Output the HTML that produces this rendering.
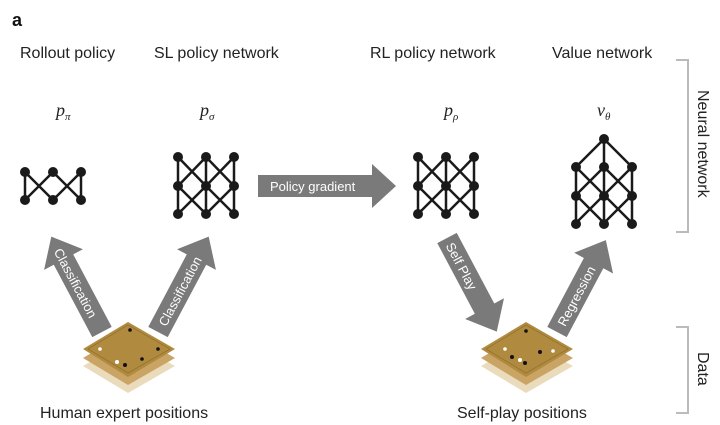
<!DOCTYPE html>
<html><head><meta charset="utf-8"><style>
body{margin:0;background:#fff;}
svg{display:block;font-family:"Liberation Sans",sans-serif;}
</style></head><body>
<svg width="720" height="425" viewBox="0 0 720 425" xmlns="http://www.w3.org/2000/svg">
<text x="12" y="26" font-size="18" font-weight="bold" fill="#111">a</text>
<g font-size="16" fill="#222">
<text x="20" y="58">Rollout policy</text>
<text x="154" y="58">SL policy network</text>
<text x="370" y="58">RL policy network</text>
<text x="552" y="58">Value network</text>
<text x="40" y="418">Human expert positions</text>
<text x="457" y="418">Self-play positions</text>
</g>
<g font-family="Liberation Serif,serif" font-style="italic" fill="#222">
<text x="56" y="116" font-size="18">p<tspan font-size="11" dy="4">π</tspan></text>
<text x="200" y="116" font-size="18">p<tspan font-size="11" dy="4">σ</tspan></text>
<text x="444" y="116" font-size="18">p<tspan font-size="11" dy="4">ρ</tspan></text>
<text x="597" y="116" font-size="18">v<tspan font-size="11" dy="4">θ</tspan></text>
</g>
<g stroke="#1a1a1a" stroke-width="2.5" fill="none">
<path d="M25 172V200M81 172V200M25 172L53 200M53 172L25 200M53 172L81 200M81 172L53 200"/>
<path d="M178 157V214M206 157V214M234 157V214M178 157L206 186M206 157L178 186M206 157L234 186M234 157L206 186M178 186L206 214M206 186L178 214M206 186L234 214M234 186L206 214"/>
<path d="M418 157V214M446 157V214M474 157V214M418 157L446 186M446 157L418 186M446 157L474 186M474 157L446 186M418 186L446 214M446 186L418 214M446 186L474 214M474 186L446 214"/>
<path d="M604 139L576 167M604 139V167M604 139L632 167M576 167V223M604 167V223M632 167V223M576 167L604 195M604 167L576 195M604 167L632 195M632 167L604 195M576 195L604 223M604 195L576 223M604 195L632 223M632 195L604 223"/>
</g>
<g fill="#1a1a1a">
<circle cx="25" cy="172" r="5"/><circle cx="53" cy="172" r="5"/><circle cx="81" cy="172" r="5"/>
<circle cx="25" cy="200" r="5"/><circle cx="53" cy="200" r="5"/><circle cx="81" cy="200" r="5"/>
<g id="g3">
<circle cx="178" cy="157" r="5"/><circle cx="206" cy="157" r="5"/><circle cx="234" cy="157" r="5"/>
<circle cx="178" cy="186" r="5"/><circle cx="206" cy="186" r="5"/><circle cx="234" cy="186" r="5"/>
<circle cx="178" cy="214" r="5"/><circle cx="206" cy="214" r="5"/><circle cx="234" cy="214" r="5"/>
</g>
<use href="#g3" transform="translate(240,0)"/>
<use href="#g3" transform="translate(398,10)"/>
<circle cx="604" cy="139" r="5"/>
</g>
<polygon points="258,175 372,175 372,164 396,186 372,208 372,197 258,197" fill="#7a7a7a"/>
<text x="270" y="191" font-size="13" fill="#fff">Policy gradient</text>
<g fill="#7a7a7a">
<g transform="translate(102,332) rotate(-28)"><polygon points="-11,0 -11,-82 -22,-82 0,-108 22,-82 11,-82 11,0"/><text transform="rotate(90)" x="-94" y="5" font-size="13" fill="#fff">Classification</text></g>
<g transform="translate(158,332) rotate(28)"><polygon points="-11,0 -11,-82 -22,-82 0,-108 22,-82 11,-82 11,0"/><text transform="rotate(-90)" x="8" y="5" font-size="13" fill="#fff">Classification</text></g>
<g transform="translate(447,238) rotate(-28)"><polygon points="-11,0 -11,80 -22,80 0,106 22,80 11,80 11,0"/><text transform="rotate(90)" x="6" y="5" font-size="13" fill="#fff">Self Play</text></g>
<g transform="translate(557,332) rotate(28)"><polygon points="-11,0 -11,-78 -22,-78 0,-104 22,-78 11,-78 11,0"/><text transform="rotate(-90)" x="8" y="5" font-size="13" fill="#fff">Regression</text></g>
</g>
<g id="board">
<polygon points="128,340 175,366 128,393 83,366" fill="#eadbbd"/>
<polygon points="128,331 175,358 128,385 83,358" fill="#c9a465"/>
<polygon points="128,322 175,349 128,377 83,349" fill="#b08a3e"/>
<polygon points="128,325 170,349 128,373 88,349" fill="none" stroke="#8a6a2a" stroke-width="0.6"/>
</g>
<use href="#board" transform="translate(398,0)"/>
<g fill="#111"><circle cx="130" cy="330" r="1.8"/><circle cx="158" cy="349" r="1.8"/><circle cx="142" cy="359" r="1.8"/><circle cx="125" cy="365" r="2"/>
<circle cx="526" cy="331" r="1.8"/><circle cx="540" cy="352" r="2"/><circle cx="512" cy="357" r="2"/><circle cx="525" cy="363" r="2"/></g>
<g fill="#fff"><circle cx="100" cy="349" r="1.8"/><circle cx="117" cy="362" r="2"/><circle cx="505" cy="349" r="1.8"/><circle cx="520" cy="360" r="2"/><circle cx="553" cy="351" r="1.8"/></g>
<g stroke="#bbb" stroke-width="2" fill="none">
<path d="M676 60H688V232H676"/>
<path d="M676 327H688V413H676"/>
</g>
<g font-size="16" fill="#222">
<text transform="translate(698,90) rotate(90)">Neural network</text>
<text transform="translate(698,352) rotate(90)">Data</text>
</g>
</svg>
</body></html>
